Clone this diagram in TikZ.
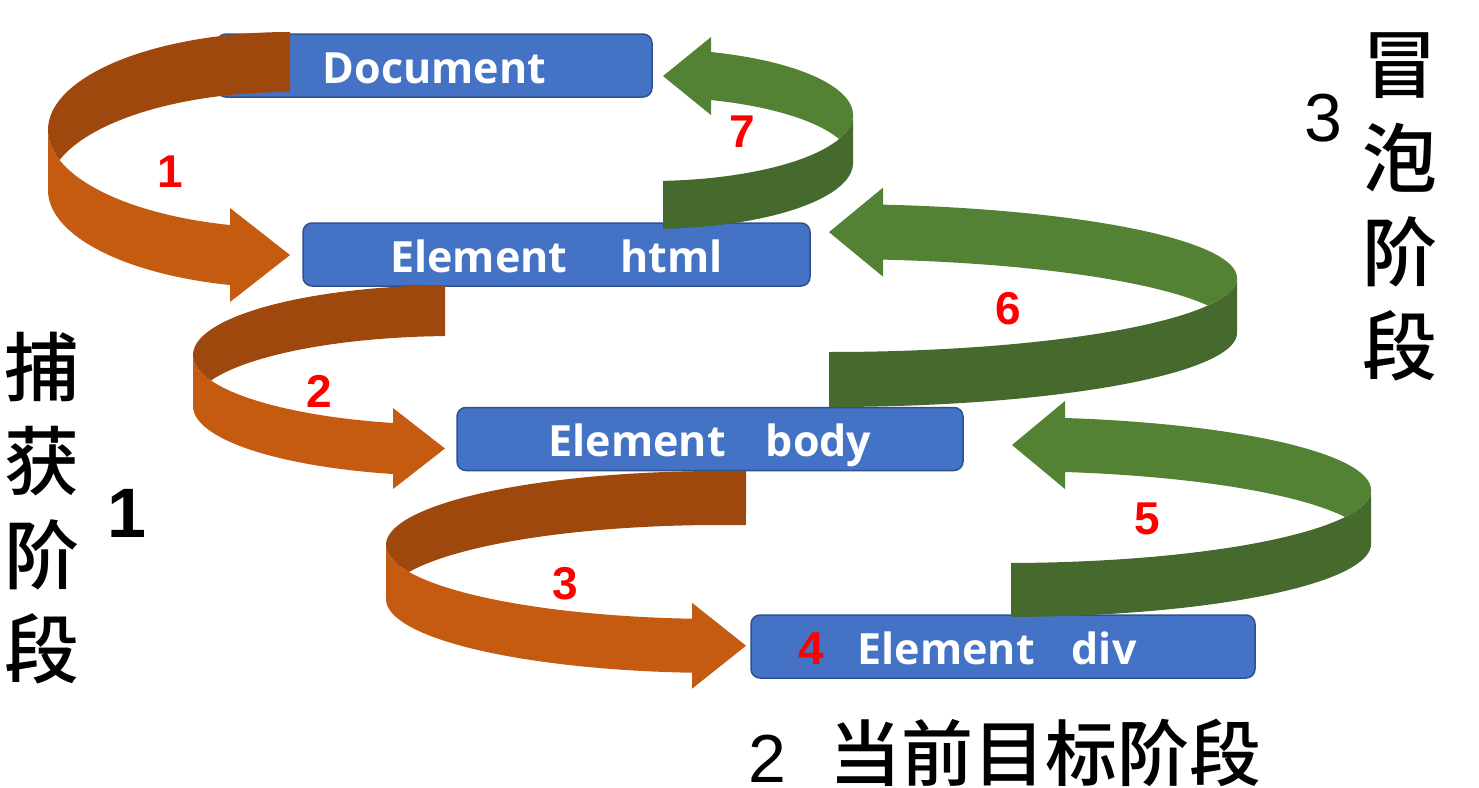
\documentclass[tikz,border=0pt]{standalone}
\usepackage{fontspec}
\setmainfont{Open Sans}
\newfontfamily\boxfont{Open Sans}
\newfontfamily\digfont{Liberation Sans}
\newfontfamily\cjk{Noto Sans CJK SC}[BoldFont={Noto Sans CJK SC Medium}]
\definecolor{boxblue}{HTML}{4472C4}
\definecolor{boxborder}{HTML}{2F528F}
\definecolor{browndark}{HTML}{9E480E}
\definecolor{brownlight}{HTML}{C55A11}
\definecolor{greenlight}{HTML}{548235}
\definecolor{greendark}{HTML}{466A2D}
\definecolor{numred}{HTML}{FF0000}
\tikzset{
  stagebox/.style={draw=boxborder, fill=boxblue, line width=1.5pt, rounded corners=9pt,
    inner sep=0pt, minimum height=63pt, text=white,
    font=\boxfont\bfseries\fontsize{43}{50}\selectfont, text height=35pt, text depth=0pt},
  rednum/.style={text=numred, font=\digfont\bfseries\fontsize{46}{50}\selectfont,
    inner sep=0pt, text height=33pt, text depth=0pt},
  bigdigit/.style={text=black, inner sep=0pt, text depth=0pt},
  cjkvert/.style={text=black, align=center, inner sep=0pt,
    font=\cjk\bfseries\fontsize{75}{94}\selectfont},
}
\newcommand{\brownribbon}[9]{%
 \pgfmathsetmacro\rbC{360-acos((#6-#1)/#3)}%
 \pgfmathsetmacro\rbS{acos((#7-#1)/#3)}%
 \pgfmathsetmacro\rbF{asin((#5/2)/#4)}%
 \pgfmathsetmacro\rbFa{180-\rbF}%
 \pgfmathsetmacro\rbFb{180+\rbF}%
 \pgfmathsetmacro\rbY{#2+#4*sin(\rbS)}%
 \fill[browndark] plot[samples=90,domain=\rbC:\rbFa] ({#1+#3*cos(\x)},{#2+#4*sin(\x)})
   -- plot[samples=90,domain=\rbFb:\rbC] ({#1+#3*cos(\x)},{#2+#5+#4*sin(\x)}) -- cycle;
 \fill[brownlight] plot[samples=90,domain=180:\rbS] ({#1+#3*cos(\x)},{#2+#4*sin(\x)})
   -- ({#7},{\rbY-#9}) -- ({#8},{\rbY+#5/2}) -- ({#7},{\rbY+#5+#9})
   -- plot[samples=90,domain=\rbS:180] ({#1+#3*cos(\x)},{#2+#5+#4*sin(\x)}) -- cycle;
}
\newcommand{\greenribbon}[9]{%
 \pgfmathsetmacro\rbH{360-acos((#7-#1)/#3)}%
 \pgfmathsetmacro\rbC{acos((#6-#1)/#3)}%
 \pgfmathsetmacro\rbF{asin((#5/2)/#4)}%
 \pgfmathsetmacro\rbFa{360+\rbF}%
 \pgfmathsetmacro\rbFb{360-\rbF}%
 \pgfmathsetmacro\rbY{#2+#4*sin(\rbH)}%
 \fill[greendark] plot[samples=90,domain=0:\rbC] ({#1+#3*cos(\x)},{#2+#4*sin(\x)})
   -- plot[samples=90,domain=\rbC:0] ({#1+#3*cos(\x)},{#2+#5+#4*sin(\x)}) -- cycle;
 \fill[greenlight] ({#7},{\rbY})
   -- plot[samples=90,domain=\rbH:\rbFa] ({#1+#3*cos(\x)},{#2+#4*sin(\x)})
   -- plot[samples=90,domain=\rbFb:\rbH] ({#1+#3*cos(\x)},{#2+#5+#4*sin(\x)})
   -- ({#7},{\rbY+#5+#9}) -- ({#8},{\rbY+#5/2}) -- ({#7},{\rbY-#9}) -- cycle;
}
\begin{document}
\begin{tikzpicture}[x=1pt,y=-1pt]
\useasboundingbox (0,0) rectangle (1479,787);
\fill[white] (0,0) rectangle (1479,787);

% boxes
\node[stagebox, minimum width=435pt] (doc) at (434.5,65.5) {Document};
\node[stagebox, minimum width=507pt] (html) at (556.5,254.5) {Element\hspace{53pt}html};
\node[stagebox, minimum width=506pt] (body) at (710,439) {Element\hspace{40pt}body};
\node[stagebox, minimum width=504pt] (div) at (1003,646.5)
  {\makebox[504pt][l]{\hspace{47pt}{\color{numred}\digfont\fontsize{46}{50}\selectfont 4}\hspace{34pt}Element\hspace{37pt}div}};

% capture arrows (brown)
\brownribbon{289}{130}{241}{98}{60}{290}{230}{290}{17}
\brownribbon{455}{355}{262}{70}{51}{445}{393}{445}{15}
\brownribbon{720}{545}{334}{74}{54}{746}{692}{746}{16}

% bubble arrows (green)
\greenribbon{650}{115}{203}{66}{48}{663}{711}{663}{15}
\greenribbon{830}{278}{407}{74}{55}{829}{883}{829}{17}
\greenribbon{1005}{490}{366}{73}{54}{1011}{1065}{1012}{17}

% step numbers
\node[rednum] (n1) at (170,171) {1};
\node[rednum] (n2) at (319.5,391) {2};
\node[rednum] (n3) at (565,583) {3};
\node[rednum] (n5) at (1147,518) {5};
\node[rednum] (n6) at (1008,308) {6};
\node[rednum] (n7) at (742,131) {7};

% phase labels
\node[cjkvert] (capture) at (42,508) {捕\\获\\阶\\段};
\node[bigdigit, font=\digfont\bfseries\fontsize{70}{70}\selectfont, text height=50pt] (c1) at (127,512) {1};
\node[cjkvert] (bubble) at (1400,207) {冒\\泡\\阶\\段};
\node[bigdigit, font=\digfont\fontsize{68}{68}\selectfont, text height=49pt] (c3) at (1323,117) {3};
\node[bigdigit, font=\digfont\fontsize{68}{68}\selectfont, text height=49pt] (c2) at (767.5,757.5) {2};
\node[text=black, inner sep=0pt, font=\cjk\bfseries\fontsize{72}{72}\selectfont] (target) at (1045,753) {当前目标阶段};
\end{tikzpicture}
\end{document}
